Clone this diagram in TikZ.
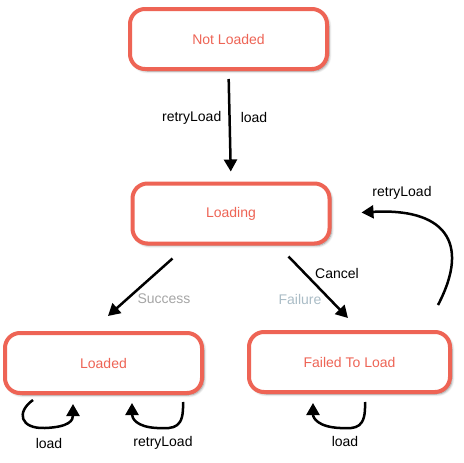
\documentclass[tikz,border=0pt]{standalone}
\usepackage{fontspec}
\setmainfont{Liberation Sans}
\usetikzlibrary{arrows.meta,calc,shadows.blur}
\definecolor{boxred}{RGB}{238,100,85}
\definecolor{succgray}{RGB}{165,165,165}
\definecolor{failgray}{RGB}{170,188,198}
\tikzset{
  state/.style={draw=boxred, line width=4pt, rounded corners=15pt, fill=white,
    minimum width=197pt, minimum height=60pt, text=boxred,
    font=\fontsize{14pt}{16pt}\selectfont,
    blur shadow={shadow xshift=2pt, shadow yshift=-2pt, shadow blur radius=2.5pt, shadow blur steps=6, shadow opacity=45}},
  conn/.style={line width=2.5pt, -{Triangle[length=12pt,width=13pt]}},
  lbl/.style={font=\fontsize{14pt}{16pt}\selectfont, inner sep=1pt},
}
\begin{document}
\begin{tikzpicture}[x=1pt,y=-1pt]
\useasboundingbox (0,0) rectangle (464,463);
\node[state] (nl) at (228.5,39) {Not Loaded};
\node[state] (ld) at (231,213.5) {Loading};
\node[state] (ok) at (103.5,363) {Loaded};
\node[state, minimum width=201pt] (fl) at (349.5,362) {Failed To Load};

% vertical
\draw[conn, shorten <=8pt, shorten >=10pt] (nl.south) -- (ld.north)
  node[lbl, pos=0.42, left=6pt] (l1) {retryLoad}
  node[lbl, pos=0.42, right=9pt] (l2) {load};

% diagonals
\coordinate (s1) at ($(ld.south west)+(42,13)$);
\coordinate (e1) at ($(ok.north west)+(105,-15)$);
\draw[conn] (s1) -- (e1);
\node[lbl, text=succgray] (succ) at (164,299) {Success};

\coordinate (s2) at ($(ld.south west)+(158,11)$);
\coordinate (e2) at ($(fl.north west)+(101,-12)$);
\draw[conn] (s2) -- (e2);
\node[lbl] (canc) at (337,273) {Cancel};
\node[lbl, text=failgray] (fail) at (300,299) {Failure};

% retry arc
\coordinate (r1) at ($(fl.north east)+(-14,-25)$);
\coordinate (r2) at ($(ld.east)+(30,-1)$);
\draw[conn] (r1) .. controls (472,240) and (442,208) .. (r2);
\node[lbl] (rl) at (402,193) {retryLoad};

% self loops Loaded
\coordinate (a1) at ($(ok.south west)+(30,5)$);
\coordinate (a2) at ($(ok.south west)+(70,9)$);
\draw[conn] (a1) .. controls (16,412) and (20,429) .. (45,428) .. controls (70,427) and (73,420) .. (a2);
\node[lbl] (okl) at (49,443) {load};

\coordinate (b1) at ($(ok.south west)+(180,7)$);
\coordinate (b2) at ($(ok.south west)+(129,8)$);
\draw[conn] (b1) .. controls (184,428) and (175,429) .. (157,428) .. controls (136,427) and (132,418) .. (b2);
\node[lbl] (okr) at (163,443) {retryLoad};

% self loop Failed
\coordinate (c1) at ($(fl.south west)+(118,8)$);
\coordinate (c2) at ($(fl.south west)+(66,9)$);
\draw[conn] (c1) .. controls (366,428) and (357,429) .. (340,428) .. controls (318,427) and (313,418) .. (c2);
\node[lbl] (fll) at (345,441) {load};
\end{tikzpicture}
\end{document}
